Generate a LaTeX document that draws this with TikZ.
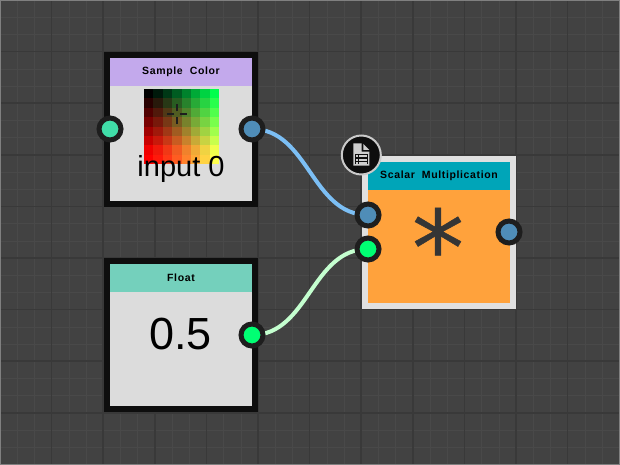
\documentclass[tikz,border=0pt]{standalone}
\usepackage{fontspec}
\setmainfont{Liberation Sans}
\newfontfamily\headfont[LetterSpace=6,WordSpace=2]{Liberation Sans}
\newfontfamily\symfont[FakeBold=0.5]{DejaVu Sans}
\usetikzlibrary{backgrounds}

\definecolor{canvasbg}{HTML}{424242}
\definecolor{gridminor}{HTML}{494949}
\definecolor{gridmajor}{HTML}{393939}
\definecolor{bodygray}{HTML}{DCDCDC}
\definecolor{framedark}{HTML}{0E0E0E}
\definecolor{framelight}{HTML}{E0E0E0}
\definecolor{headpurple}{HTML}{C3A9EC}
\definecolor{headteal}{HTML}{74D0BC}
\definecolor{headcyan}{HTML}{00A5B8}
\definecolor{bodyorange}{HTML}{FFA23C}
\definecolor{sockring}{HTML}{1E1E1E}
\definecolor{sockblue}{HTML}{4F8DB8}
\definecolor{sockgreen}{HTML}{00FF73}
\definecolor{sockmint}{HTML}{40DDA8}
\definecolor{wireblue}{HTML}{7CBFF5}
\definecolor{wiregreen}{HTML}{C4FFCF}

\begin{document}
\begin{tikzpicture}[
    x=1pt, y=-1pt,
    frame_box/.style={rectangle, draw=framedark, fill=bodygray, line width=6pt, minimum width=148pt, minimum height=148pt, inner sep=0pt},
    head_box/.style={rectangle, minimum width=142pt, minimum height=28pt, inner sep=0pt, font=\headfont\bfseries\fontsize{10.5}{11}\selectfont},
    socket/.style={circle, draw=sockring, line width=5pt, minimum size=22pt, inner sep=0pt},
    wire/.style={line width=4pt, out=0, in=180}
]
\useasboundingbox (0,0) rectangle (620,465);

% Sample color node
\node (sample_frame) at (181,129.5) [frame_box] {};
\node (sample_head) at (181,72) [head_box, fill=headpurple] {Sample Color};
\foreach \row in {0,...,7} {
    \foreach \col in {0,...,7} {
        \pgfmathtruncatemacro{\redval}{min(255,\row*40)}
        \pgfmathtruncatemacro{\greenval}{255*(\col/7)^1.2}
        \pgfmathtruncatemacro{\blueval}{\col*11}
        \definecolor{swatchcell}{RGB}{\redval,\greenval,\blueval}
        \fill[swatchcell] (144+\col*9.4,89+\row*9.4) rectangle ++(9.5,9.5);
    }
}
% Crosshair
\foreach \dx/\dy in {1/0,-1/0,0/1,0/-1}
    \draw[line width=2pt, sockring] (176.5+3*\dx,114.5+3*\dy) -- ++(7*\dx,7*\dy);
\node (sample_label) at (181,169) [font=\fontsize{29}{29}\selectfont, inner sep=0pt] {input 0};

% Float node
\node (float_frame) at (181,335) [frame_box] {};
\node (float_head) at (181,278) [head_box, fill=headteal] {Float};
\node (float_label) at (180.5,334) [font=\fontsize{45}{45}\selectfont, inner sep=0pt] {0.5};

% Scalar multiplication node
\node (mult_frame) at (439,232.5) [frame_box, draw=framelight, fill=bodyorange, minimum height=147pt] {};
\node (mult_head) at (439,175.5) [head_box, fill=headcyan] {Scalar Multiplication};
\node (mult_label) at (438,232) [font=\symfont\fontsize{104}{104}\selectfont, text=sockring!90!white, inner sep=0pt, yshift=-14.5pt] {*};

% Doc icon
\node (doc_icon) at (361.3,155) [circle, draw=framelight!90!black, fill=framedark, line width=2pt, minimum size=39pt, inner sep=0pt] {};
\fill[bodygray!85!gray] (353.3,143.3) -- (361.7,143.3) -- (361.7,151.7) -- (369.3,151.7) -- (369.3,165.7) -- (353.3,165.7) -- cycle;
\fill[bodygray!85!gray] (363.3,144) -- (369.3,150) -- (363.3,150) -- cycle;
\fill[framedark] (354.8,154.5) rectangle (367.5,164.2);
\foreach \rowy in {155.3,158.6,161.9} {
    \fill[bodygray!85!gray] (355.6,\rowy) rectangle ++(2.6,2);
    \fill[bodygray!85!gray] (359.3,\rowy) rectangle ++(7.4,2);
}

% Sockets
\node (sample_in) at (110,129) [socket, fill=sockmint] {};
\node (sample_out) at (252,129) [socket, fill=sockblue] {};
\node (float_out) at (252,335) [socket, fill=sockgreen] {};
\node (mult_in_a) at (368,215) [socket, fill=sockblue] {};
\node (mult_in_b) at (368,249) [socket, fill=sockgreen] {};
\node (mult_out) at (509,232) [socket, fill=sockblue] {};

\begin{scope}[on background layer]
    \fill[canvasbg] (0,0) rectangle (620,465);
    \foreach \n in {1,...,35} {
        \draw[gridminor] (\n*17.2,0) -- (\n*17.2,465);
        \draw[gridminor] (0,\n*17.2) -- (620,\n*17.2);
    }
    \foreach \n in {1,...,11} {
        \draw[gridmajor, line width=1.5pt] (\n*51.6,0) -- (\n*51.6,465);
        \draw[gridmajor, line width=1.5pt] (0,\n*51.6) -- (620,\n*51.6);
    }
    \draw[gray, line width=1.5pt] (0,0) rectangle (620,465);
    % Connections
    \draw[wire, wireblue] (sample_out.center) to (mult_in_a.center);
    \draw[wire, wiregreen] (float_out.center) to (mult_in_b.center);
\end{scope}

\end{tikzpicture}
\end{document}
